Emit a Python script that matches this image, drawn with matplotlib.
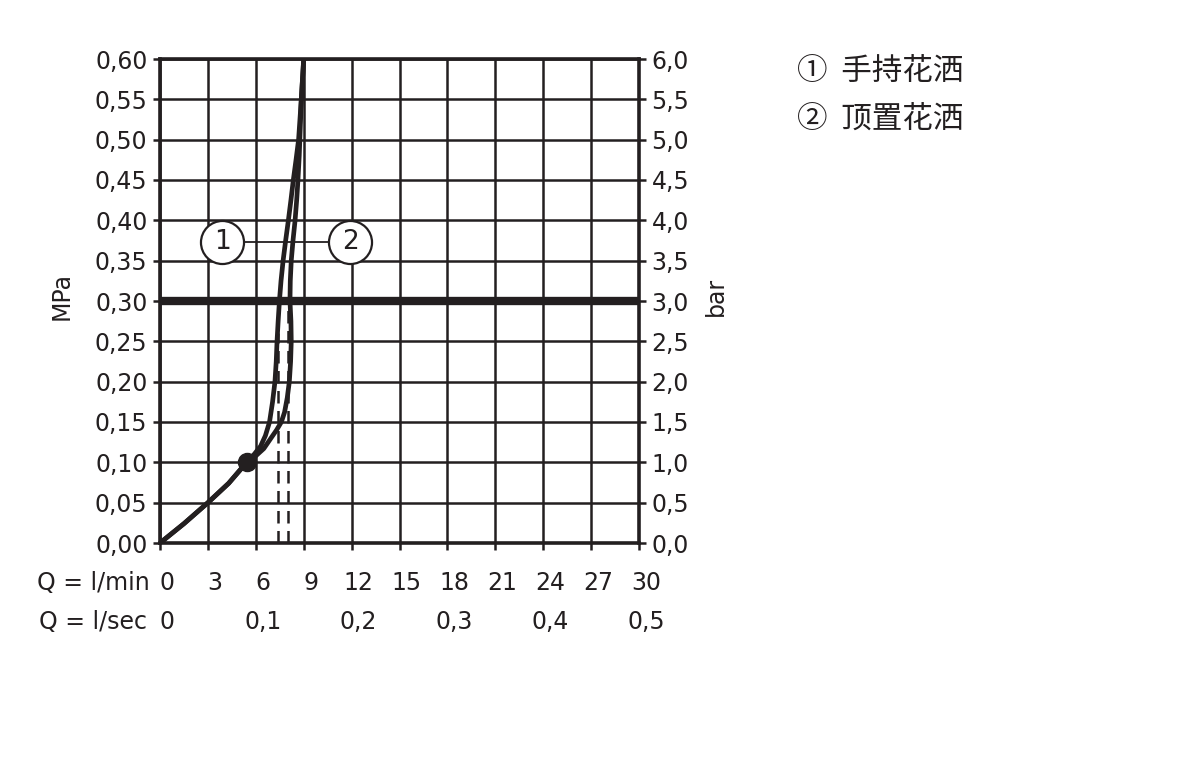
import numpy as np
import matplotlib
matplotlib.use("Agg")
import matplotlib.pyplot as plt
import matplotlib.transforms as mtransforms

# ---- data ----
# flow Q in l/min, pressure p in MPa
curve1_q = [0, 1.5, 3.0, 4.3, 5.43, 5.9, 6.3, 6.6, 6.86, 7.05, 7.2, 7.28, 7.33, 7.4, 7.48, 7.58, 7.71, 7.87, 8.04, 8.2, 8.35, 8.52, 8.68, 8.85, 9.0]
curve1_p = [0, 0.024, 0.05, 0.074, 0.10, 0.11, 0.12, 0.133, 0.15, 0.175, 0.20, 0.225, 0.25, 0.275, 0.30, 0.325, 0.35, 0.375, 0.40, 0.425, 0.45, 0.475, 0.50, 0.55, 0.60]
curve2_q = [0, 1.5, 3.0, 4.3, 5.43, 6.0, 6.5, 6.95, 7.3, 7.6, 7.8, 7.97, 8.1, 8.18, 8.22, 8.2, 8.14, 8.16, 8.22, 8.33, 8.46, 8.56, 8.64, 8.72, 8.85, 9.0]
curve2_p = [0, 0.024, 0.05, 0.074, 0.10, 0.108, 0.117, 0.13, 0.14, 0.15, 0.162, 0.18, 0.20, 0.225, 0.25, 0.275, 0.30, 0.325, 0.35, 0.375, 0.40, 0.425, 0.45, 0.48, 0.55, 0.60]
dot_q, dot_p = 5.43, 0.10
dash_q = [7.39, 8.04]
dash_top = [0.26, 0.30]
ref_p = 0.30
label_q = [3.9, 11.9]
label_p = 0.373
label_txt = ["1", "2"]

xticks = list(range(0, 31, 3))
xlabels_min = [str(v) for v in xticks]
xsec_pos = [0, 6, 12, 18, 24, 30]
xsec_lab = ["0", "0,1", "0,2", "0,3", "0,4", "0,5"]
yticks = [round(0.05 * i, 2) for i in range(13)]
ylab_left = [("%.2f" % v).replace(".", ",") for v in yticks]
ylab_right = [("%.1f" % (v * 10)).replace(".", ",") for v in yticks]
legend_items = ["①  手持花洒", "②  顶置花洒"]

FONT = ["DejaVu Sans"]
CJK = ["Noto Sans CJK SC", "DejaVu Sans"]
plt.rcParams["font.family"] = FONT
INK = "#231f20"
FS = 17
W = "normal"

fig = plt.figure(figsize=(12, 7.65), dpi=100)
ax = fig.add_axes([160 / 1200, 222 / 765, 479 / 1200, 484 / 765])
ax.set_xlim(0, 30)
ax.set_ylim(0, 0.60)
ax.set_xticks(xticks)
ax.set_yticks(yticks)
ax.set_yticklabels(ylab_left, fontweight=W)
ax.grid(True, color=INK, lw=1.8)
ax.set_axisbelow(True)
for s in ax.spines.values():
    s.set_linewidth(2.6)
    s.set_color(INK)
ax.tick_params(axis="both", direction="out", length=5, width=1.8, color=INK,
               labelsize=FS, labelcolor=INK, pad=4)
ax.tick_params(axis="x", labelbottom=False)

ax2 = ax.twinx()
ax2.set_ylim(0, 6.0)
ax2.set_yticks([v * 10 for v in yticks])
ax2.set_yticklabels(ylab_right, fontweight=W)
ax2.tick_params(axis="y", direction="out", length=5, width=1.8, color=INK,
                labelsize=FS, labelcolor=INK, pad=4)
for s in ax2.spines.values():
    s.set_visible(False)

# reference line at 0.30 MPa
ax.axhline(ref_p, color=INK, lw=6, zorder=2)

# dashed lines
for q, top in zip(dash_q, dash_top):
    ax.plot([q, q], [0, top], color=INK, lw=1.8, ls=(0, (5, 3)), zorder=3)

# connector between labels
ax.plot(label_q, [label_p, label_p], color=INK, lw=1.3, zorder=3)

# curves
ax.plot(curve1_q, curve1_p, color=INK, lw=3.4, solid_capstyle="butt", zorder=4)
ax.plot(curve2_q, curve2_p, color=INK, lw=3.4, solid_capstyle="butt", zorder=4)
ax.plot([dot_q], [dot_p], "o", color=INK, ms=13, zorder=5, clip_on=False)

# circle labels
for q, t in zip(label_q, label_txt):
    ax.plot([q], [label_p], "o", ms=31, mfc="white", mec=INK, mew=1.6, zorder=6)
    ax.text(q, label_p, t, ha="center", va="center", fontsize=19, color=INK,
            fontweight=W, zorder=7)

# axis titles
fig.text(62 / 1200, 1 - 296 / 765, "MPa", rotation=90, ha="center", va="center",
         fontsize=FS, color=INK, fontweight=W)
fig.text(716 / 1200, 1 - 296 / 765, "bar", rotation=90, ha="center", va="center",
         fontsize=FS, color=INK, fontweight=W)

# bottom rows
tr = mtransforms.blended_transform_factory(ax.transData, fig.transFigure)
tr = mtransforms.offset_copy(tr, fig=fig, x=7, y=0, units="dots")
y1 = 1 - 583 / 765
y2 = 1 - 622 / 765
for q, t in zip(xticks, xlabels_min):
    ax.text(q, y1, t, transform=tr, ha="center", va="center", fontsize=FS,
            color=INK, fontweight=W)
for q, t in zip(xsec_pos, xsec_lab):
    ax.text(q, y2, t, transform=tr, ha="center", va="center", fontsize=FS,
            color=INK, fontweight=W)
fig.text(150 / 1200, y1, "Q = l/min", ha="right", va="center", fontsize=FS,
         color=INK, fontweight=W)
fig.text(147 / 1200, y2, "Q = l/sec", ha="right", va="center", fontsize=FS,
         color=INK, fontweight=W)

# legend
for i, t in enumerate(legend_items):
    fig.text(797 / 1200, 1 - (72 + 48 * i) / 765, t, ha="left", va="center",
             fontsize=22, color=INK, family=CJK, fontweight="light")

fig.savefig("out.png", dpi=100)
